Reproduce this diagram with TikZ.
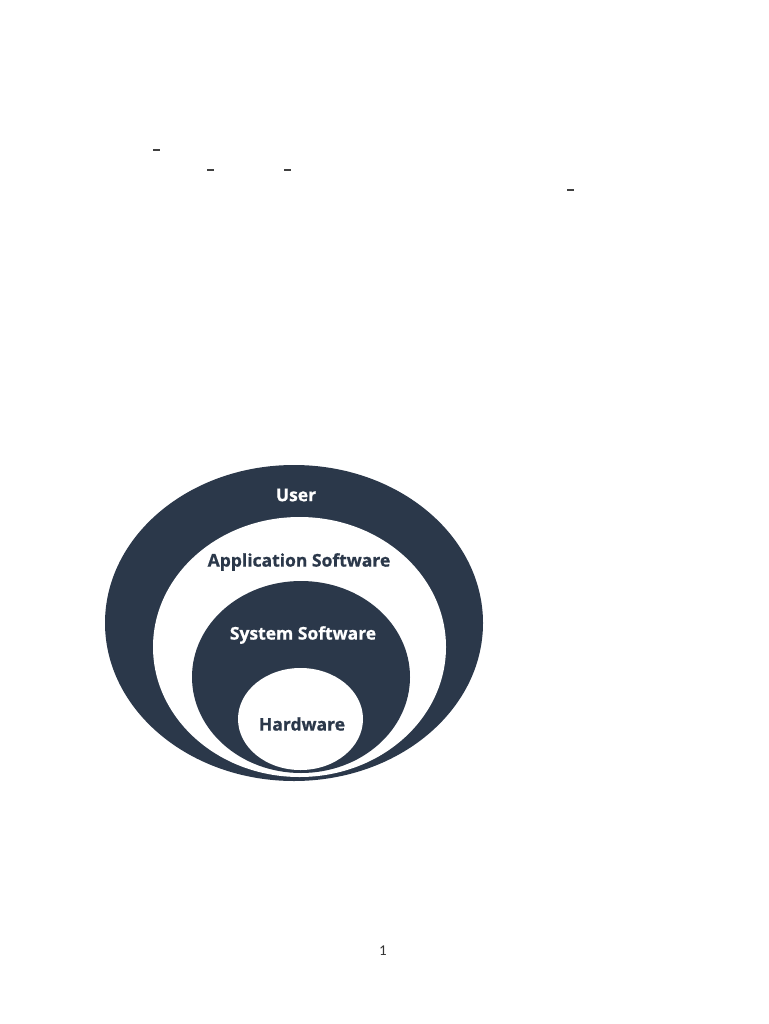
\documentclass[tikz,border=0pt]{standalone}
\usepackage{fontspec}
\setmainfont{Open Sans}
\newfontfamily\lblfont{Open Sans}[BoldFeatures={FakeBold=0.8}]
\newfontfamily\pagefont{Carlito}
\definecolor{ringdark}{RGB}{43,56,74}
\begin{document}
\begin{tikzpicture}[x=1pt,y=-1pt,
  darkring/.style={fill=ringdark,draw=none},
  lightring/.style={fill=white,draw=none},
  lbllight/.style={text=white,font=\lblfont\bfseries\fontsize{17.5}{20}\selectfont,inner sep=0pt},
  lbldark/.style={text=ringdark,font=\lblfont\bfseries\fontsize{17.5}{20}\selectfont,inner sep=0pt},
  dashmark/.style={draw=black!75,line width=1.3pt}]
\useasboundingbox (0,0) rectangle (768,1024);
\fill[white] (0,0) rectangle (768,1024);
% top dashes
\draw[dashmark] (153,150) -- (160,150);
\draw[dashmark] (207,170) -- (214,170);
\draw[dashmark] (284,170) -- (291,170);
\draw[dashmark] (567,190) -- (574,190);
% nested rings
\fill[darkring] (294,623) ellipse [x radius=189, y radius=158];
\fill[lightring] (299.5,647) ellipse [x radius=146.5, y radius=130];
\fill[darkring] (301,677) ellipse [x radius=109, y radius=96];
\fill[lightring] (300.5,719) ellipse [x radius=62.5, y radius=51];
% labels
\node[lbllight] (user) at (296,495) {User};
\node[lbldark] (app) at (299,562) {Application Software};
\node[lbllight] (sys) at (303,635) {System Software};
\node[lbldark] (hw) at (302,724) {Hardware};
% page number
\node[font=\pagefont\fontsize{15}{17}\selectfont,text=black!80,inner sep=0pt] (pagenum) at (383,951) {1};
\end{tikzpicture}
\end{document}
